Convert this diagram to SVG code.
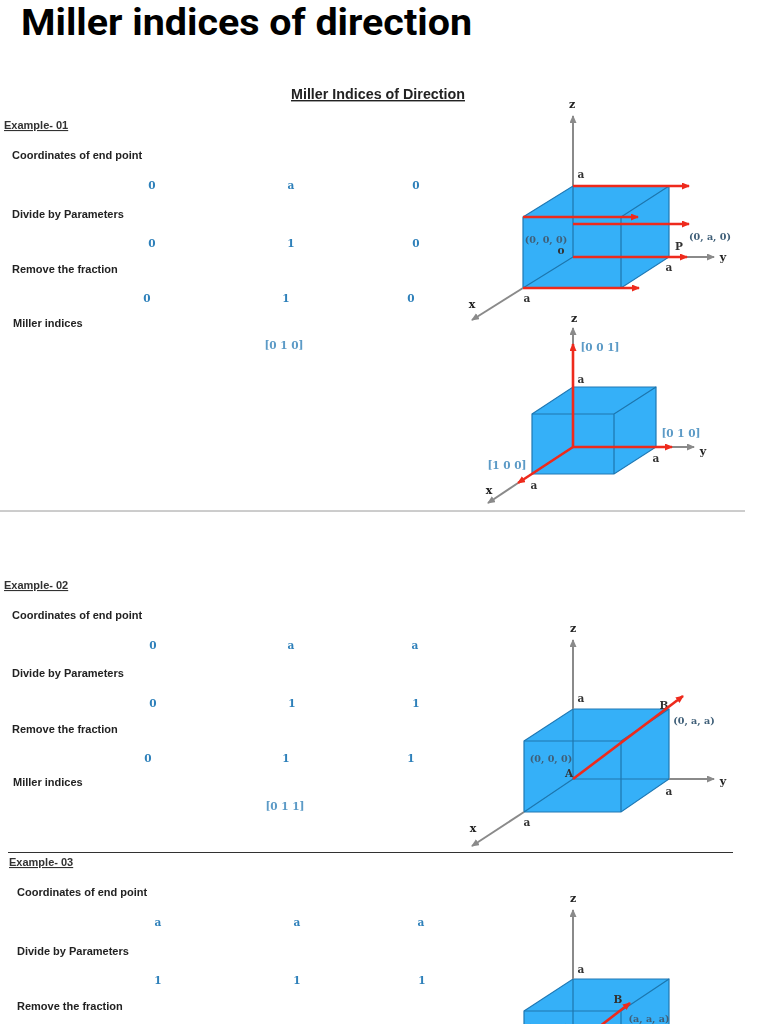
<svg xmlns="http://www.w3.org/2000/svg" width="768" height="1024" viewBox="0 0 768 1024">
<style>
text{font-family:"Liberation Sans",Arial,sans-serif}
.title{font-family:Roboto,"Liberation Sans",sans-serif;font-weight:700;font-size:37px;fill:#000}
.head{font-weight:700;font-size:14.3px;fill:#222;text-decoration:underline}
.ex{font-weight:700;font-size:11px;fill:#333;text-decoration:underline}
.lab{font-weight:700;font-size:11px;fill:#222}
.v{font-family:"DejaVu Serif",serif;font-weight:700;font-size:10.5px;fill:#2f80ba;text-anchor:middle}
.idx{font-family:"DejaVu Serif",serif;font-weight:700;font-size:10.5px;fill:#5b9ac6;text-anchor:middle}
.ax{font-family:"DejaVu Serif",serif;font-weight:700;font-size:11px;fill:#222;text-anchor:middle}
.pt{font-family:"DejaVu Serif",serif;font-weight:700;font-size:10.5px;fill:#333;text-anchor:middle}
.co{font-family:"DejaVu Serif",serif;font-weight:700;font-size:9.6px;fill:#3f5f78;text-anchor:middle}
.face{fill:#36b0f8;stroke:#1f78b4;stroke-width:1.2}
.edge{fill:none;stroke:#1d76ae;stroke-width:1.2}
.axis{fill:none;stroke:#8a8a8a;stroke-width:2;marker-end:url(#g)}
.red{fill:none;stroke:#ee2a1c;stroke-width:2.6;marker-end:url(#r)}
.sep{stroke-width:1}
</style>
<defs>
<marker id="g" markerWidth="9" markerHeight="8" refX="7" refY="3.5" orient="auto" markerUnits="userSpaceOnUse"><path d="M0 0L8 3.500L0 7Z" fill="#8a8a8a"/></marker>
<marker id="r" markerWidth="9" markerHeight="8" refX="7" refY="3.5" orient="auto" markerUnits="userSpaceOnUse"><path d="M0 0L8 3.500L0 7Z" fill="#ee2a1c"/></marker>
<filter id="soft" x="-5%" y="-5%" width="110%" height="110%"><feGaussianBlur stdDeviation="0.35"/></filter>
<clipPath id="page"><rect width="768" height="1024"/></clipPath>
</defs>
<rect width="768" height="1024" fill="#fff"/>
<text class="title" x="21" y="35" textLength="451" lengthAdjust="spacingAndGlyphs">Miller indices of direction</text>
<g filter="url(#soft)">
<text class="head" x="291" y="99">Miller Indices of Direction</text>
<g id="example-01">
<text class="ex" x="4" y="129">Example- 01</text>
<text class="lab" x="12" y="159">Coordinates of end point</text>
<text class="v" x="152" y="189">0</text><text class="v" x="291" y="189">a</text><text class="v" x="416" y="189">0</text>
<text class="lab" x="12" y="218">Divide by Parameters</text>
<text class="v" x="152" y="247">0</text><text class="v" x="291" y="247">1</text><text class="v" x="416" y="247">0</text>
<text class="lab" x="12" y="273">Remove the fraction</text>
<text class="v" x="147" y="302">0</text><text class="v" x="286" y="302">1</text><text class="v" x="411" y="302">0</text>
<text class="lab" x="13" y="327">Miller indices</text>
<text class="idx" x="284" y="349">[0 1 0]</text>
</g>
<g id="cube-1">
<path class="face" d="M523 217L573 186H669V257L621 288H523Z"/>
<path class="edge" d="M523 217H621V288M621 217L669 186M573 186V257H669M573 257L523 288"/>
<text class="ax" x="572" y="108">z</text><text class="ax" x="472" y="308">x</text><text class="ax" x="723" y="261">y</text>
<text class="pt" x="581" y="178">a</text><text class="pt" x="527" y="302">a</text><text class="pt" x="669" y="271">a</text><text class="pt" x="679" y="250">P</text>
<text class="pt" x="561" y="254">o</text>
<text class="co" x="546" y="243">(0, 0, 0)</text><text class="co" x="710" y="240">(0, a, 0)</text>
</g>
<g id="cube-2">
<path class="face" d="M532 414L573 387H656V447L614 474H532Z"/>
<path class="edge" d="M532 414H614V474M614 414L656 387M573 387V447H656M573 447L532 474"/>
<text class="ax" x="574" y="322">z</text><text class="ax" x="489" y="494">x</text><text class="ax" x="703" y="455">y</text>
<text class="pt" x="581" y="383">a</text><text class="pt" x="534" y="489">a</text><text class="pt" x="656" y="462">a</text>
<text class="idx" x="600" y="351">[0 0 1]</text><text class="idx" x="681" y="437">[0 1 0]</text><text class="idx" x="507" y="469">[1 0 0]</text>
</g>
<g id="example-02">
<text class="ex" x="4" y="589">Example- 02</text>
<text class="lab" x="12" y="619">Coordinates of end point</text>
<text class="v" x="153" y="649">0</text><text class="v" x="291" y="649">a</text><text class="v" x="415" y="649">a</text>
<text class="lab" x="12" y="677">Divide by Parameters</text>
<text class="v" x="153" y="707">0</text><text class="v" x="292" y="707">1</text><text class="v" x="416" y="707">1</text>
<text class="lab" x="12" y="733">Remove the fraction</text>
<text class="v" x="148" y="762">0</text><text class="v" x="286" y="762">1</text><text class="v" x="411" y="762">1</text>
<text class="lab" x="13" y="786">Miller indices</text>
<text class="idx" x="285" y="810">[0 1 1]</text>
</g>
<g id="cube-3">
<path class="face" d="M524 741L573 709H669V779L621 812H524Z"/>
<path class="edge" d="M524 741H621V812M621 741L669 709M573 709V779H669M573 779L524 812"/>
<text class="ax" x="573" y="632">z</text><text class="ax" x="473" y="832">x</text><text class="ax" x="723" y="785">y</text>
<text class="pt" x="581" y="702">a</text><text class="pt" x="527" y="826">a</text><text class="pt" x="669" y="795">a</text><text class="pt" x="664" y="709">B</text><text class="pt" x="569" y="777">A</text>
<text class="co" x="551" y="762">(0, 0, 0)</text><text class="co" x="694" y="724">(0, a, a)</text>
</g>
<g id="example-03">
<text class="ex" x="9" y="866">Example- 03</text>
<text class="lab" x="17" y="896">Coordinates of end point</text>
<text class="v" x="158" y="926">a</text><text class="v" x="297" y="926">a</text><text class="v" x="421" y="926">a</text>
<text class="lab" x="17" y="955">Divide by Parameters</text>
<text class="v" x="158" y="984">1</text><text class="v" x="297" y="984">1</text><text class="v" x="422" y="984">1</text>
<text class="lab" x="17" y="1010">Remove the fraction</text>
</g>
<g id="cube-4" clip-path="url(#page)">
<path class="face" d="M524 1011L573 979H669V1050L621 1082H524Z"/>
<path class="edge" d="M524 1011H621V1082M621 1011L669 979M573 979V1050"/>
<text class="ax" x="573" y="902">z</text>
<text class="pt" x="581" y="973">a</text><text class="pt" x="618" y="1003">B</text>
<text class="co" x="649" y="1022">(a, a, a)</text><text class="co" x="548" y="1031">(0, 0, 0)</text>
</g>
<g id="connectors" clip-path="url(#page)">
<path class="axis" d="M573 186V116"/><path class="axis" d="M669 257H714"/><path class="axis" d="M523 288L472 320"/>
<path class="red" d="M573 186H689"/><path class="red" d="M523 217H638"/><path class="red" d="M573 224H689"/><path class="red" d="M573 257H687"/><path class="red" d="M523 288H639"/>
<path class="axis" d="M573 344V328"/><path class="axis" d="M672 447H694"/><path class="axis" d="M518 483L488 503"/>
<path class="red" d="M573 447V344"/><path class="red" d="M573 447H672"/><path class="red" d="M573 447L518 483"/>
<path class="axis" d="M573 709V640"/><path class="axis" d="M669 779H714"/><path class="axis" d="M524 812L472 846"/>
<path class="red" d="M573 779L683 696"/>
<path class="axis" d="M573 979V910"/>
<path class="red" d="M573 1047L630 1003"/>
<path class="sep" d="M0 511H745" stroke="#9a9a9a"/>
<path class="sep" d="M8 852.500H733" stroke="#333"/>
</g>
</g>
</svg>
